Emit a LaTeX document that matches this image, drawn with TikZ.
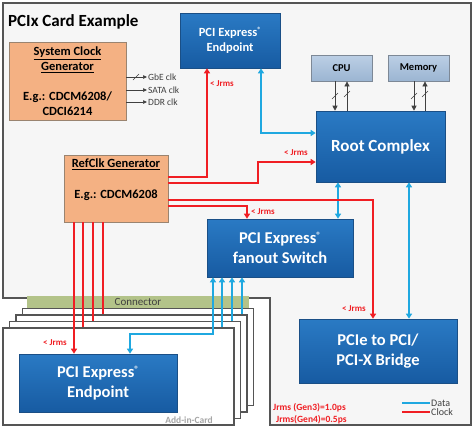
\documentclass[tikz,border=0pt]{standalone}
\usepackage{fontspec}
\setmainfont{Carlito}
\usetikzlibrary{arrows.meta,calc}
\definecolor{blueT}{HTML}{2A7AC4}
\definecolor{blueB}{HTML}{175BA2}
\definecolor{blueEdge}{HTML}{1A4F86}
\definecolor{oran}{HTML}{F4B183}
\definecolor{oranEdge}{HTML}{9A8470}
\definecolor{steelT}{HTML}{BCCFE5}
\definecolor{steelB}{HTML}{9BB5D2}
\definecolor{steelEdge}{HTML}{7D8896}
\definecolor{conn}{HTML}{B3C389}
\definecolor{clkred}{HTML}{F01E23}
\definecolor{datblue}{HTML}{1FA8E0}
\definecolor{frameGray}{HTML}{555555}
\definecolor{bgcol}{HTML}{F6F6F6}
\definecolor{txtGray}{HTML}{404040}
\newcommand{\regmark}{\raisebox{0.55ex}{\fontsize{9}{9}\selectfont ®}}
\begin{document}
\begin{tikzpicture}[x=1pt,y=-1pt,
  >={Triangle[width=6pt,length=5pt]},
  bluebox/.style={draw=blueEdge, line width=0.6pt, top color=blueT, bottom color=blueB, text=white, font=\bfseries, align=center, inner sep=0pt},
  orangebox/.style={draw=oranEdge, line width=0.8pt, fill=oran, align=center, inner sep=0pt, font=\bfseries\fontsize{12.5}{15}\selectfont},
  steelbox/.style={draw=steelEdge, line width=0.8pt, top color=steelT, bottom color=steelB, inner sep=0pt, font=\bfseries\fontsize{10.5}{12}\selectfont},
  cardbox/.style={draw=frameGray, line width=1.1pt, fill=white, inner sep=0pt},
  clk/.style={draw=clkred, line width=2pt, ->},
  clkline/.style={draw=clkred, line width=2pt},
  dat/.style={draw=datblue, line width=2pt},
  busarrow/.style={draw=txtGray, line width=0.8pt, -{Triangle[width=5pt,length=5pt]}},
  outarrow/.style={draw=txtGray, line width=0.7pt, -{Triangle[width=3.5pt,length=4pt]}},
  jrms/.style={text=clkred, font=\bfseries\fontsize{9}{10}\selectfont, inner sep=1pt},
  smalltxt/.style={text=txtGray, font=\fontsize{9.5}{11}\selectfont, inner sep=1pt},
  slashmark/.style={draw=txtGray, line width=0.6pt}
]
\useasboundingbox (0,0) rectangle (474,429);

% main card frame
\draw[draw=frameGray, line width=1.2pt, fill=bgcol]
  (249,298) -- (270,298) -- (270,425) -- (471,425) -- (471,3) -- (3,3) -- (3,298) -- (27,298);

\node[anchor=west, font=\bfseries\fontsize{17}{20}\selectfont, text=black, inner sep=0pt] (title) at (8,22) {PCIx Card Example};

% add-in cards (back to front)
\node[cardbox, minimum width=231pt, minimum height=97pt] (card4) at (138,357) {};
\node[cardbox, minimum width=231pt, minimum height=97pt] (card3) at (131.5,363.5) {};
\node[cardbox, minimum width=231pt, minimum height=97pt] (card2) at (125,370) {};
\node[cardbox, minimum width=231pt, minimum height=97pt] (card1) at (118.5,376.5) {};
\node[text=gray!70, font=\bfseries\fontsize{9.5}{11}\selectfont, inner sep=0pt] (addin) at (189,420) {Add-in-Card};

% connector
\node[fill=conn, minimum width=222pt, minimum height=12pt, inner sep=0pt, font=\fontsize{11}{12}\selectfont, text=txtGray] (conn) at (138,302) {Connector};

% boxes
\node[orangebox, minimum width=117pt, minimum height=78pt] (sysclk) at (67.5,81)
  {\underline{System Clock}\\\underline{Generator}\\[15pt]E.g.: CDCM6208/\\CDCI6214};
\node[orangebox, minimum width=104pt, minimum height=67pt] (refclk) at (116,188.5) {};
\node[font=\bfseries\fontsize{12.5}{15}\selectfont, inner sep=0pt] (refclkA) at (116,164) {\underline{RefClk Generator}};
\node[font=\bfseries\fontsize{12.5}{15}\selectfont, inner sep=0pt] (refclkB) at (116,195) {E.g.: CDCM6208};

\node[bluebox, minimum width=100pt, minimum height=55pt, font=\bfseries\fontsize{12.5}{15}\selectfont] (ep1) at (230,40.5)
  {PCI Express{\raisebox{0.55ex}{\fontsize{7.5}{8}\selectfont ®}}\\Endpoint};
\node[steelbox, minimum width=61pt, minimum height=26pt] (cpu) at (341.5,68) {CPU};
\node[steelbox, minimum width=61pt, minimum height=26pt] (mem) at (418.5,68) {Memory};
\node[bluebox, minimum width=129pt, minimum height=71pt, font=\bfseries\fontsize{17}{20}\selectfont] (root) at (380.5,146.5) {Root Complex};
\node[bluebox, minimum width=146pt, minimum height=58pt, font=\bfseries\fontsize{16.5}{20}\selectfont] (switch) at (280,248)
  {PCI Express\regmark\\fanout Switch};
\node[bluebox, minimum width=158pt, minimum height=64pt, font=\bfseries\fontsize{16.5}{20}\selectfont] (bridge) at (378,351)
  {PCIe to PCI/\\PCI-X Bridge};
\node[bluebox, minimum width=158pt, minimum height=58pt, font=\bfseries\fontsize{16.5}{20}\selectfont] (ep2) at (98,383)
  {PCI Express\regmark\\Endpoint};

% system clock outputs
\node[smalltxt, anchor=west] (gbe) at (147,77) {GbE clk};
\node[smalltxt, anchor=west] (sata) at (147,90) {SATA clk};
\node[smalltxt, anchor=west] (ddr) at (147,102) {DDR clk};
\draw[outarrow] (sysclk.east |- gbe.west) -- (gbe.west);
\draw[outarrow] (sysclk.east |- sata.west) -- (sata.west);
\draw[outarrow] (sysclk.east |- ddr.west) -- (ddr.west);
\draw[slashmark] (133,80) -- (139,74);

% CPU / memory buses
\draw[busarrow] (cpu.south -| 335,0) -- (root.north -| 335,0);
\draw[busarrow] (root.north -| 347,0) -- (cpu.south -| 347,0);
\draw[busarrow] (mem.south -| 414,0) -- (root.north -| 414,0);
\draw[busarrow] (root.north -| 425,0) -- (mem.south -| 425,0);
\draw[slashmark] (332,99) -- (338,93);
\draw[slashmark] (344,97) -- (350,91);
\draw[slashmark] (411,99) -- (417,93);
\draw[slashmark] (422,97) -- (428,91);

% data links
\draw[dat, <->] (ep1.south -| 261,0) |- (root.west |- 0,133);
\draw[dat, <->] (root.south -| 338,0) -- (switch.north -| 338,0);
\draw[dat, <->] (root.south -| 409,0) -- (bridge.north -| 409,0);
\coordinate (bend) at (130,334);
\draw[dat, <->] (switch.south -| 213,0) |- (bend) -- (ep2.north -| bend);
\draw[dat, ->] (card1.north -| 222,0) -- (switch.south -| 222,0);
\draw[dat, ->] (card2.north -| 232,0) -- (switch.south -| 232,0);
\draw[dat, ->] (card3.north -| 242,0) -- (switch.south -| 242,0);

% clock links
\draw[clk] (refclk.east |- 0,177) -| (ep1.south -| 207,0);
\coordinate (rb) at (258,162);
\draw[clk] (refclk.east |- 0,183) -| (rb) -- (root.west |- rb);
\draw[clk] (refclk.east |- 0,200) -| (bridge.north -| 373,0);
\draw[clk] (refclk.east |- 0,206) -| (switch.north -| 247,0);
\draw[clk] (refclk.south -| 74,0) -- (ep2.north -| 74,0);
\draw[clkline] (refclk.south -| 83,0) -- (card1.north -| 83,0);
\draw[clkline] (refclk.south -| 93,0) -- (card2.north -| 93,0);
\draw[clkline] (refclk.south -| 103,0) -- (card3.north -| 103,0);

\node[jrms, anchor=west] (j1) at (209,84) {< Jrms};
\node[jrms, anchor=east] (j2) at (309,153) {< Jrms};
\node[jrms, anchor=west] (j3) at (250,212) {< Jrms};
\node[jrms, anchor=east] (j4) at (367,309) {< Jrms};
\node[jrms, anchor=east] (j5) at (68,343) {< Jrms};

% legend
\node[jrms, anchor=west, font=\bfseries\fontsize{9.5}{10}\selectfont] (g3) at (272,408) {Jrms (Gen3)=1.0ps};
\node[jrms, anchor=west, font=\bfseries\fontsize{9.5}{10}\selectfont] (g4) at (275,419.5) {Jrms(Gen4)=0.5ps};
\node[smalltxt, anchor=west, font=\fontsize{10}{11}\selectfont] (ldata) at (430,403) {Data};
\node[smalltxt, anchor=west, font=\fontsize{10}{11}\selectfont] (lclock) at (430,412) {Clock};
\coordinate (ld0) at (402,403);
\coordinate (lc0) at (402,412);
\draw[dat] (ld0) -- (ldata.west);
\draw[clkline] (lc0) -- (lclock.west);
\end{tikzpicture}
\end{document}
